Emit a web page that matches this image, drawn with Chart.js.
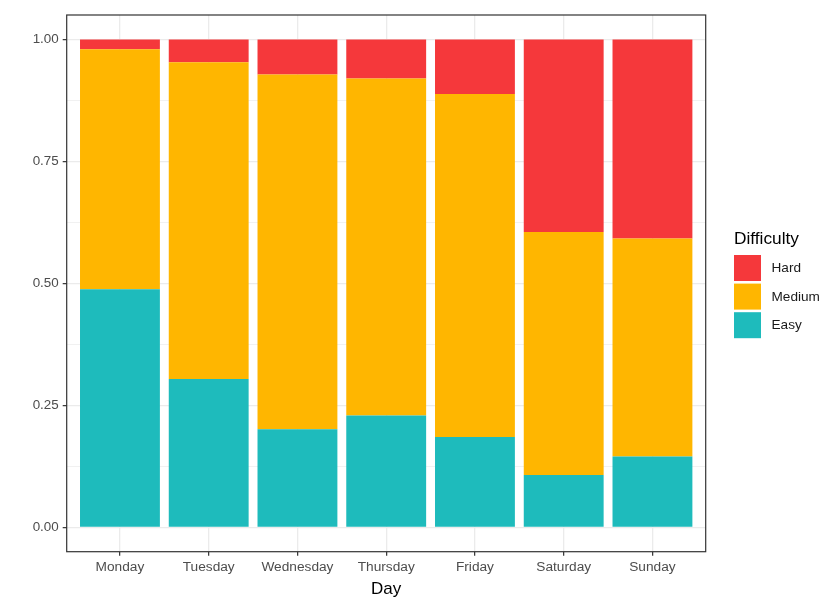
<!DOCTYPE html>
<html>
<head>
<meta charset="utf-8">
<script src="https://cdn.jsdelivr.net/npm/chart.js@4.4.0/dist/chart.umd.min.js"></script>
<style>
	html, body { margin: 0; padding: 0; background: #fff; }
	#wrap { width: 832px; height: 606px; position: relative; }
</style>
</head>
<body>
<div id="wrap"><canvas id="myChart"></canvas></div>
<script>
// data (share of each difficulty per day)
var days = ["Monday", "Tuesday", "Wednesday", "Thursday", "Friday", "Saturday", "Sunday"];
var easy = [0.488, 0.304, 0.201, 0.229, 0.185, 0.107, 0.145];
var medium = [0.492, 0.649, 0.727, 0.691, 0.703, 0.498, 0.447];
var hard = [0.020, 0.047, 0.072, 0.080, 0.112, 0.395, 0.408];
var yTicks = [0, 0.25, 0.5, 0.75, 1];

var colors = { Hard: '#F5383B', Medium: '#FFB600', Easy: '#1EBBBC' };

function points(arr) {
	return arr.map(function (v, i) { return { x: i, y: v } })
}

// major + minor gridlines for y
var yAll = [];
yTicks.forEach(function (t, i) {
	yAll.push({ value: t, major: true });
	if (i < yTicks.length - 1) yAll.push({ value: (t + yTicks[i + 1]) / 2, major: false });
});

Chart.defaults.font.family = "'Liberation Sans', Arial, sans-serif";
Chart.defaults.color = '#4D4D4D';

// panel border + legend drawn by hand
var panelPlugin = {
	id: 'panel',
	afterDraw: function (chart) {
		var ctx = chart.ctx, a = chart.chartArea;
		ctx.save();
		ctx.strokeStyle = '#333333';
		ctx.lineWidth = 1.2;
		ctx.strokeRect(a.left, a.top, a.right - a.left, a.bottom - a.top);

		// legend
		ctx.fillStyle = '#000';
		ctx.font = "17.3px 'Liberation Sans', Arial, sans-serif";
		ctx.textBaseline = 'alphabetic';
		ctx.textAlign = 'left';
		ctx.fillText('Difficulty', 734, 243.5);
		var items = ['Hard', 'Medium', 'Easy'];
		ctx.font = "13.6px 'Liberation Sans', Arial, sans-serif";
		ctx.textBaseline = 'middle';
		items.forEach(function (name, i) {
			var y = 255 + i * 28.6;
			ctx.fillStyle = colors[name];
			ctx.fillRect(734, y, 27, 26);
			ctx.fillStyle = '#1A1A1A';
			ctx.fillText(name, 771.5, y + 13.5);
		});
		ctx.restore();
	}
}

var ctx = document.getElementById('myChart').getContext('2d');
var chart = new Chart(ctx, {
	type: 'bar',
	data: {
		datasets: [{
			label: 'Easy',
			backgroundColor: colors.Easy,
			data: points(easy),
		},
		{
			label: 'Medium',
			backgroundColor: colors.Medium,
			data: points(medium),
		},
		{
			label: 'Hard',
			backgroundColor: colors.Hard,
			data: points(hard),
		}]
	},
	options: {
		responsive: true,
		maintainAspectRatio: false,
		animation: false,
		barPercentage: 0.9,
		categoryPercentage: 1,
		layout: { padding: { top: 15, right: 126.3, bottom: 0, left: 0 } },
		plugins: {
			legend: { display: false },
			tooltip: { enabled: false }
		},
		scales: {
			x: {
				type: 'linear',
				stacked: true,
				offset: false,
				min: -0.6,
				max: 6.6,
				afterBuildTicks: function (axis) {
					axis.ticks = days.map(function (d, i) { return { value: i } })
				},
				afterFit: function (scale) { scale.height = 54.3 },
				border: { display: false },
				grid: {
					offset: false,
					color: '#EBEBEB',
					lineWidth: 1.3,
					tickColor: '#333333',
					tickLength: 4,
					tickWidth: 1.2
				},
				ticks: {
					autoSkip: false,
					maxRotation: 0,
					padding: 3.5,
					font: { size: 13.7 },
					color: '#4D4D4D',
					callback: function (v) { return days[v] }
				},
				title: {
					display: true,
					text: 'Day',
					color: '#000',
					font: { size: 17 },
					padding: { top: 0, bottom: 6.5 }
				}
			},
			y: {
				stacked: true,
				min: -0.05,
				max: 1.05,
				afterBuildTicks: function (axis) {
					axis.ticks = yAll.map(function (t) { return { value: t.value, major: t.major } })
				},
				afterFit: function (scale) { scale.width = 66.7 },
				border: { display: false },
				grid: {
					color: '#EBEBEB',
					lineWidth: function (c) { return c.tick && c.tick.major ? 1.3 : 0.7 },
					tickColor: function (c) { return c.tick && c.tick.major ? '#333333' : 'rgba(0,0,0,0)' },
					tickLength: 4,
					tickWidth: 1.2
				},
				ticks: {
					autoSkip: false,
					padding: 4,
					font: { size: 13.4 },
					color: '#4D4D4D',
					callback: function (v, i, ticks) {
						return ticks[i].major ? v.toFixed(2) : ''
					}
				}
			}
		}
	},
	plugins: [panelPlugin]
});
</script>
</body>
</html>
